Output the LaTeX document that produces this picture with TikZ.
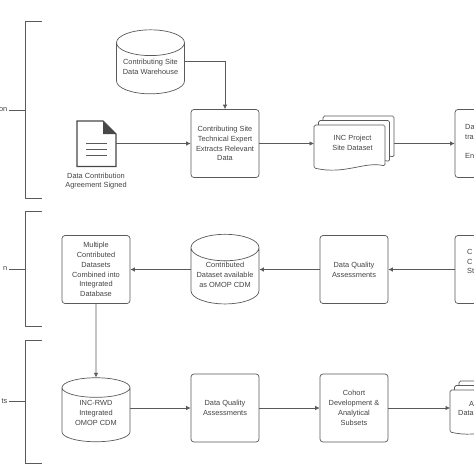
\documentclass[tikz,border=0pt]{standalone}
\usepackage{fontspec}
\setmainfont{Liberation Sans}
\usepackage{xcolor}
\usepackage{tikz}
\usetikzlibrary{arrows.meta,shapes.geometric,positioning}
\definecolor{linegray}{HTML}{5A5A5A}
\definecolor{textgray}{HTML}{444444}
\tikzset{
  procbox/.style={draw=linegray,rounded corners=3pt,minimum width=68pt,minimum height=68pt,align=center,text=textgray,font=\fontsize{7.4}{9.8}\selectfont,line width=0.7pt,inner sep=1pt},
  dbcyl/.style={draw=linegray,cylinder,shape border rotate=90,shape aspect=0.45,minimum width=68pt,minimum height=64pt,align=center,text=textgray,font=\fontsize{7.4}{9.8}\selectfont,line width=0.7pt,inner sep=1pt},
  flow/.style={-{Latex[length=4.5pt,width=4.5pt]},draw=linegray,line width=0.7pt},
  brace/.style={draw=linegray,line width=0.8pt},
  lbl/.style={text=textgray,font=\fontsize{7.4}{9.8}\selectfont,align=center,inner sep=0pt}
}
\begin{document}
\begin{tikzpicture}[x=1pt,y=-1pt]
  \useasboundingbox[fill=white] (0,0) rectangle (474,474);
  % brackets
  \foreach \t/\m/\b/\n/\s in {21/110/198/lblA/on,211/269/326/lblB/n,340/401/463/lblC/ts}{
    \draw[brace] (42,\t) -- (25,\t) -- (25,\b) -- (42,\b);
    \node[lbl,anchor=east] (\n) at (7.5,\m) {\s};
    \draw[brace] (\n.east) ++(1,0) -- (25,\m);
  }
  % first row
  \node[dbcyl] (wh) at (150.5,70) {Contributing Site\\Data Warehouse\\[-4pt]};
  \node[procbox] (extract) at (225,143.5) {Contributing Site\\Technical Expert\\Extracts Relevant\\Data};
  \coordinate (agree) at (116,143.5);
  \draw[linegray!80!black,line width=1.3pt,fill=white] (77,121) -- (103,121) -- (116,134) -- (116,166.5) -- (77,166.5) -- cycle;
  \fill[linegray!80!black] (103,121) -- (116,134) -- (103,134) -- cycle;
  \foreach \y in {143.5,149.5,155.5}{\draw[linegray,line width=1.1pt] (86,\y) -- (107,\y);}
  \node[lbl] (agreetxt) at (96,181) {Data Contribution\\Agreement Signed};
  \foreach \dx/\dy in {9/-9,4.5/-4.5,0/0}{
    \draw[linegray,line width=0.7pt,fill=white,rounded corners=1.5pt,shift={(\dx,\dy)}] (314,168) -- (314,125) -- (385,125) -- (385,166) .. controls (365,161) and (345,175) .. (314,168) -- cycle;
  }
  \node[lbl] (site) at (352.5,143) {INC Project\\Site Dataset};
  \coordinate (siteE) at (394,143.5);
  \node[procbox] (transform) at (489,143.5) {};
  \node[lbl,anchor=north west,align=left] (transformtxt) at (465,124) {Da\\tra\\[9.8pt]En};
  % second row
  \node[procbox] (combine) at (96,269.5) {Multiple\\Contributed\\Datasets\\Combined into\\Integrated\\Database};
  \node[dbcyl] (omop) at (225,277.5) {Contributed\\Dataset available\\as OMOP CDM\\[-4pt]};
  \node[procbox] (dqa) at (354,269.5) {Data Quality\\Assessments};
  \node[procbox] (cdm) at (489,269.5) {};
  \node[lbl,anchor=north west,align=left] (cdmtxt) at (467,249) {C\\C\\St};
  % third row
  \node[dbcyl] (rwd) at (96,416) {INC-RWD\\Integrated\\OMOP CDM\\[-4pt]};
  \node[procbox] (dqb) at (225,408) {Data Quality\\Assessments};
  \node[procbox] (cohort) at (354,408) {Cohort\\Development \&\\Analytical\\Subsets};
  \foreach \dx/\dy in {9/-9,4.5/-4.5,0/0}{
    \draw[linegray,line width=0.7pt,fill=white,rounded corners=1.5pt,shift={(\dx,\dy)}] (450,432) -- (450,390) -- (520,390) -- (520,430) .. controls (500,425) and (480,439) .. (450,432) -- cycle;
  }
  \coordinate (subW) at (450,408);
  \node[lbl,anchor=west] (subtxtA) at (469,403.5) {A};
  \node[lbl,anchor=west] (subtxtB) at (458,413) {Data};
  % connectors
  \draw[flow] (wh.east |- 0,61) -| (extract.north);
  \draw[flow] (agree) -- (extract.west);
  \draw[flow] (extract.east) -- (314,143.5);
  \draw[flow] (siteE) -- (transform.west);
  \draw[flow] (cdm.west) -- (dqa.east);
  \draw[flow] (dqa.west) -- (omop.east |- dqa.west);
  \draw[flow] (omop.west |- combine.east) -- (combine.east);
  \draw[flow] (combine.south) -- (rwd.north);
  \draw[flow] (rwd.east |- dqb.west) -- (dqb.west);
  \draw[flow] (dqb.east) -- (cohort.west);
  \draw[flow] (cohort.east) -- (subW);
\end{tikzpicture}
\end{document}
